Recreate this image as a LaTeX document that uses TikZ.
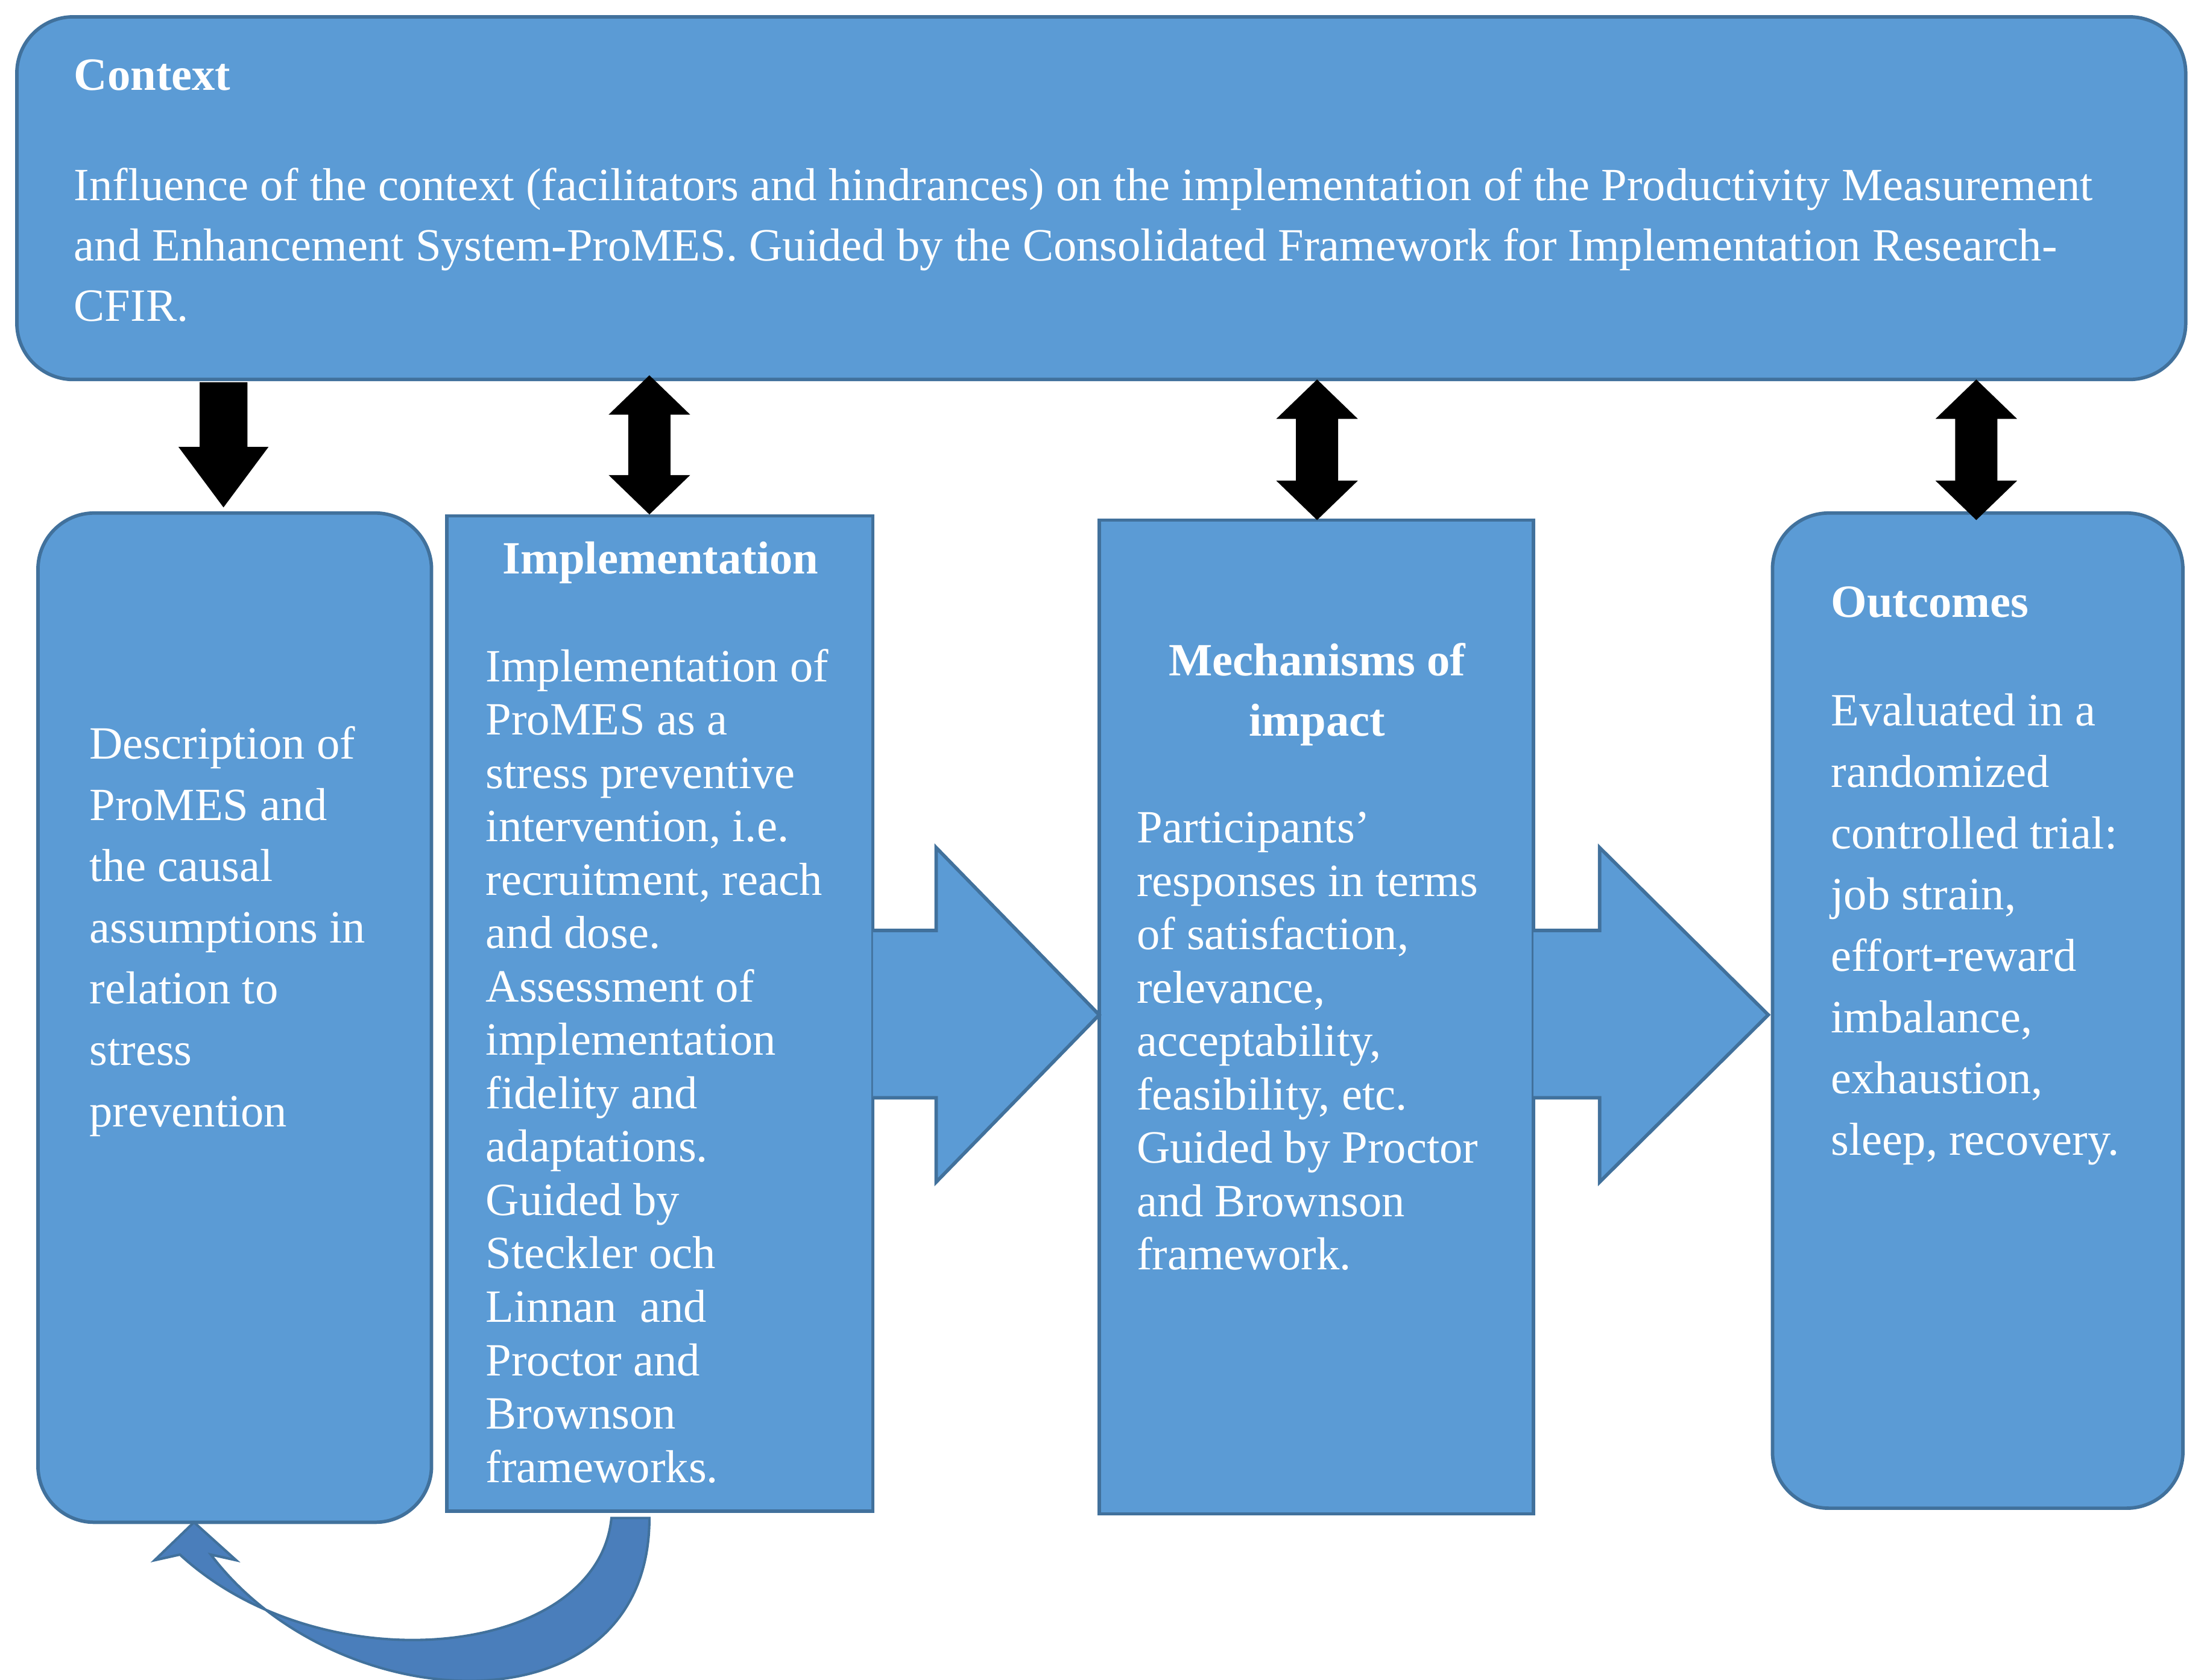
\documentclass[tikz,border=0pt]{standalone}
\usepackage{fontspec}
\setmainfont{Liberation Serif}
\usetikzlibrary{positioning,calc}
\definecolor{boxfill}{HTML}{5B9BD5}
\definecolor{boxline}{HTML}{41719C}
\definecolor{loopfill}{HTML}{4A7EBB}
\begin{document}
\begin{tikzpicture}[x=0.01cm,y=-0.01cm,
    blk/.style ={
        fill=boxfill,
        draw=boxline,
        line width=0.7pt
    },
    rblk/.style ={
        blk,
        rounded corners=0.4cm
    },
    txt/.style ={
        white,
        inner sep=0pt,
        anchor=north west,
        align=left,
        font=\fontsize{9.35}{10.8}\selectfont
    },
    wide/.style ={
        txt,
        font=\fontsize{9.35}{12.4}\selectfont
    },
    ttl/.style ={
        txt,
        anchor=base west,
        font=\fontsize{9.35}{12.2}\selectfont\bfseries
    },
    blkarrow/.style ={
        fill=black
    }
    ]
    \useasboundingbox (0,0) rectangle (1568,1195);

    % boxes
    \draw[rblk] (12,12) rectangle (1555,270);
    \draw[rblk] (27,365) rectangle (307,1083);
    \draw[blk] (318,367) rectangle (621,1075);
    \draw[blk] (782,370) rectangle (1091,1077);
    \draw[rblk] (1261,365) rectangle (1553,1073);

    % texts
    \node[ttl] (ctxtitle) at (52,64) {Context};
    \node[txt] (ctxbody) at (52,119) {Influence of the context (facilitators and hindrances) on the implementation of the Productivity Measurement\\[1.4pt]and Enhancement System-ProMES. Guided by the Consolidated Framework for Implementation Research-\\[1.4pt]CFIR.};
    \node[wide] (desc) at (63,516) {Description of\\ProMES and\\the causal\\assumptions in\\relation to\\stress\\prevention};
    \node[ttl, anchor=base] (impltitle) at (470,408) {Implementation};
    \node[txt] (implbody) at (345,461) {Implementation of\\ProMES as a\\stress preventive\\intervention, i.e.\\recruitment, reach\\and dose.\\Assessment of\\implementation\\fidelity and\\adaptations.\\Guided by\\Steckler och\\Linnan~~and\\Proctor and\\Brownson\\frameworks.};
    \node[ttl, anchor=north, align=center] (mechtitle) at (937,457) {Mechanisms of\\impact};
    \node[txt] (mechbody) at (808,577) {Participants'\\responses in terms\\of satisfaction,\\relevance,\\acceptability,\\feasibility, etc.\\Guided by Proctor\\and Brownson\\framework.};
    \node[ttl] (outtitle) at (1302,439) {Outcomes};
    \node[wide] (outbody) at (1302,493) {Evaluated in a\\randomized\\controlled trial:\\job strain,\\effort-reward\\imbalance,\\exhaustion,\\sleep, recovery.};

    % block arrows between boxes
    \foreach \xa/\xb/\xt in {621/666/782, 1091/1138/1258}
        \draw[blk] (\xa,662) -- (\xb,662) -- (\xb,603) -- (\xt,722) -- (\xb,841) -- (\xb,781) -- (\xa,781);

    % context arrows
    \fill[blkarrow] (142,272) -- (176,272) -- (176,318) -- (191,318) -- (159,361) -- (127,318) -- (142,318) -- cycle;
    \foreach \xc/\ya/\yb in {462/267/366, 937/270/370, 1406/270/370}
        \fill[blkarrow] (\xc,\ya) -- ($(\xc,\ya)+(29,28)$) -- ($(\xc,\ya)+(15,28)$) -- ($(\xc,\yb)+(15,-28)$) -- ($(\xc,\yb)+(29,-28)$)
            -- (\xc,\yb) -- ($(\xc,\yb)+(-29,-28)$) -- ($(\xc,\yb)+(-15,-28)$) -- ($(\xc,\ya)+(-15,28)$) -- ($(\xc,\ya)+(-29,28)$) -- cycle;

    % feedback loop
    \draw[fill=loopfill, draw=boxline, line width=0.5pt] (435,1080) -- (462,1080)
        .. controls (462,1235) and (240,1225) .. (150,1106) -- (168,1110) -- (138,1083) -- (110,1110) -- (128,1106)
        .. controls (230,1200) and (425,1180) .. (435,1080) -- cycle;
\end{tikzpicture}
\end{document}
